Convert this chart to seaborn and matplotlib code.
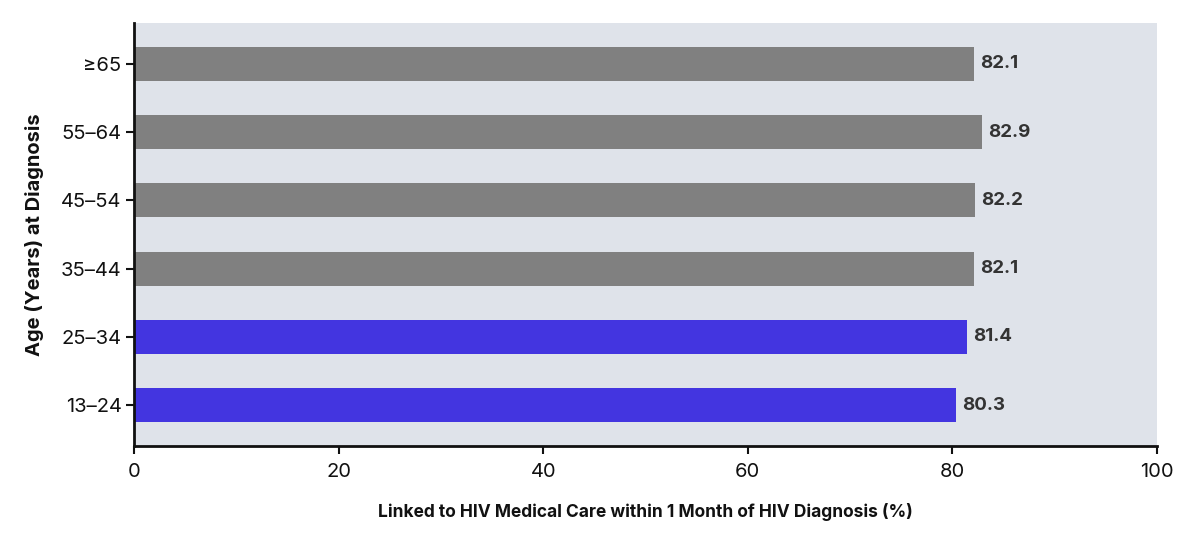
import matplotlib
matplotlib.use("Agg")
import matplotlib.pyplot as plt
import seaborn as sns
import pandas as pd

categories = ["≥65", "55–64", "45–54", "35–44", "25–34", "13–24"]
values = [82.1, 82.9, 82.2, 82.1, 81.4, 80.3]
bar_colors = ["#808080", "#808080", "#808080", "#808080", "#4335e0", "#4335e0"]
x_ticks = [0, 20, 40, 60, 80, 100]

sns.set_theme(style="white")
plt.rcParams['font.family'] = ['Inter', 'DejaVu Sans']

df = pd.DataFrame({"age": categories, "pct": values})

fig = plt.figure(figsize=(11.86, 5.36), dpi=100)
ax = fig.add_axes([0.113, 0.168, 0.8626, 0.789])
ax.set_facecolor("#dfe3ea")

sns.barplot(data=df, x="pct", y="age", hue="age", palette=bar_colors,
            order=categories, hue_order=categories, legend=False,
            width=0.5, ax=ax, edgecolor="none", saturation=1)

for i, v in enumerate(values):
    ax.text(v + 0.6, i, f"{v:.1f}", va="center", ha="left",
            fontsize=13.5, fontweight="bold", color="#333333")

ax.set_xlim(0, 100)
ax.set_ylim(5.6, -0.6)
ax.set_xticks(x_ticks)
ax.set_xticklabels([str(t) for t in x_ticks], fontsize=14.5, color="#111111")
ax.tick_params(axis="y", labelsize=14.5, labelcolor="#111111", length=6, width=1.5, color="#111111", left=True, pad=3)
ax.tick_params(axis="x", length=6, width=1.5, color="#111111", bottom=True, pad=6)

for s in ["top", "right"]:
    ax.spines[s].set_visible(False)
for s in ["left", "bottom"]:
    ax.spines[s].set_color("#111111")
    ax.spines[s].set_linewidth(2)

ax.set_xlabel("Linked to HIV Medical Care within 1 Month of HIV Diagnosis (%)",
              fontsize=12.5, fontweight="bold", labelpad=16, color="#111111")
ax.set_ylabel("Age (Years) at Diagnosis", fontsize=14.5, fontweight="bold",
              labelpad=12, color="#111111")

fig.savefig("out.png", dpi=100)
